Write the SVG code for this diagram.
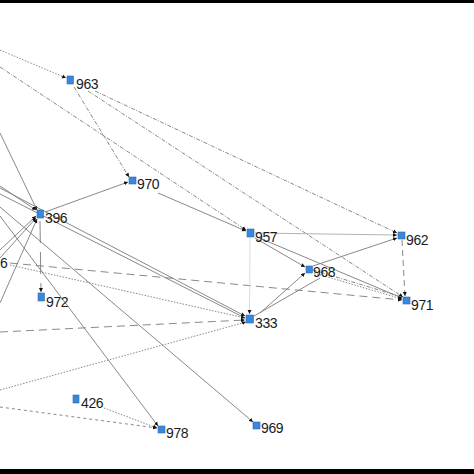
<svg xmlns="http://www.w3.org/2000/svg" width="474" height="474" viewBox="0 0 474 474">
<style>
.e{fill:none;stroke:#7a7a7a;stroke-width:0.9}
.dot{stroke-dasharray:1.5 1.5}
.dd{stroke-dasharray:4 1.5 1 1.5}
.ld{stroke-dasharray:8 5}
.sd{stroke-dasharray:3 3}
.lt{stroke:#aaa}
.fa{stroke:#d6d6d6}
.n rect{fill:#3b87d9;stroke:#2a6ab5;stroke-width:0.6}
.n text{font-family:"Liberation Sans",Arial,sans-serif;font-size:14px;letter-spacing:-0.4px;fill:#1a1a1a}
</style>
<defs>
<marker id="a" markerWidth="5" markerHeight="5" refX="4" refY="2.5" orient="auto" markerUnits="userSpaceOnUse"><path d="M0,0.5 L4,2.5 L0,4.5z" fill="#111"/></marker>
</defs>
<rect x="0" y="0" width="474" height="474" fill="#fff"/>
<rect x="0" y="0" width="474" height="3" fill="#000"/>
<rect x="0" y="469" width="474" height="5" fill="#000"/>
<g id="edges">
<line class="e dot" x1="0" y1="50" x2="66" y2="78" marker-end="url(#a)"/>
<line class="e dd" x1="0" y1="67" x2="246" y2="230" marker-end="url(#a)"/>
<line class="e dd" x1="74" y1="87" x2="129" y2="177" marker-end="url(#a)"/>
<line class="e dd" x1="95" y1="91" x2="397" y2="233" marker-end="url(#a)"/>
<line class="e dd" x1="88" y1="91" x2="403" y2="297" marker-end="url(#a)"/>
<line class="e" x1="45" y1="212" x2="128" y2="182" marker-end="url(#a)"/>
<line class="e" x1="158" y1="193" x2="246" y2="231" marker-end="url(#a)"/>
<line class="e" x1="0" y1="133" x2="37" y2="210" marker-end="url(#a)"/>
<line class="e" x1="0" y1="186" x2="36" y2="210" marker-end="url(#a)"/>
<line class="e" x1="0" y1="188" x2="245" y2="316" marker-end="url(#a)"/>
<line class="e" x1="0" y1="194" x2="245" y2="318"/>
<line class="e" x1="0" y1="250" x2="36" y2="216" marker-end="url(#a)"/>
<line class="e" x1="0" y1="258" x2="36" y2="218" marker-end="url(#a)"/>
<line class="e" x1="0" y1="303" x2="37" y2="219" marker-end="url(#a)"/>
<line class="e" x1="40" y1="221" x2="41" y2="292" stroke-dasharray="22 9" marker-end="url(#a)"/>
<line class="e ld" x1="10" y1="263" x2="402" y2="300" marker-end="url(#a)"/>
<line class="e dot" x1="10" y1="265" x2="245" y2="318" marker-end="url(#a)"/>
<line class="e ld" x1="0" y1="332" x2="245" y2="320" marker-end="url(#a)"/>
<line class="e dot" x1="0" y1="390" x2="246" y2="322" marker-end="url(#a)"/>
<line class="e" x1="0" y1="216" x2="158" y2="426" marker-end="url(#a)"/>
<line class="e" x1="0" y1="207" x2="253" y2="422" marker-end="url(#a)"/>
<line class="e dot" x1="104" y1="408" x2="157" y2="428" marker-end="url(#a)"/>
<line class="e sd" x1="0" y1="407" x2="157" y2="428" marker-end="url(#a)"/>
<line class="e lt" x1="255" y1="233" x2="397" y2="235" marker-end="url(#a)"/>
<line class="e" x1="255" y1="238" x2="305" y2="267" marker-end="url(#a)"/>
<line class="e" x1="257" y1="237" x2="402" y2="298" marker-end="url(#a)"/>
<line class="e fa" x1="250" y1="238" x2="249.5" y2="314" marker-end="url(#a)"/>
<line class="e" x1="260" y1="313" x2="305" y2="273" marker-end="url(#a)"/>
<line class="e" x1="320" y1="278" x2="254" y2="316"/>
<line class="e" x1="313" y1="266" x2="397" y2="238" marker-end="url(#a)"/>
<line class="e dot" x1="314" y1="273" x2="402" y2="299" marker-end="url(#a)"/>
<line class="e dd" x1="313" y1="270" x2="402" y2="297"/>
<line class="e" x1="402" y1="240" x2="405" y2="296" stroke-dasharray="6 4" marker-end="url(#a)"/>
</g>
<g id="n963" class="n"><rect x="67" y="76" width="6.5" height="8"/><text x="76" y="89">963</text></g>
<g id="n970" class="n"><rect x="129" y="177" width="7" height="7"/><text x="137" y="189">970</text></g>
<g id="n396" class="n"><rect x="37" y="210" width="6.5" height="8"/><text x="45" y="223">396</text></g>
<g id="n972" class="n"><rect x="38" y="293" width="6.5" height="8"/><text x="46" y="307">972</text></g>
<g id="n957" class="n"><rect x="247" y="229" width="7" height="8"/><text x="255" y="242">957</text></g>
<g id="n962" class="n"><rect x="398" y="232" width="7" height="7"/><text x="406" y="245">962</text></g>
<g id="n968" class="n"><rect x="306" y="266" width="6.5" height="7"/><text x="313" y="277">968</text></g>
<g id="n971" class="n"><rect x="403" y="297" width="7" height="7"/><text x="411" y="310">971</text></g>
<g id="n333" class="n"><rect x="246" y="315" width="7.5" height="8"/><text x="255" y="328">333</text></g>
<g id="n426" class="n"><rect x="73" y="395" width="6" height="8"/><text x="81" y="408">426</text></g>
<g id="n978" class="n"><rect x="158" y="426" width="7" height="7"/><text x="166" y="438">978</text></g>
<g id="n969" class="n"><rect x="253" y="422" width="7" height="7"/><text x="261" y="433">969</text></g>
<g id="n6" class="n"><text x="0" y="268">6</text></g>
</svg>
